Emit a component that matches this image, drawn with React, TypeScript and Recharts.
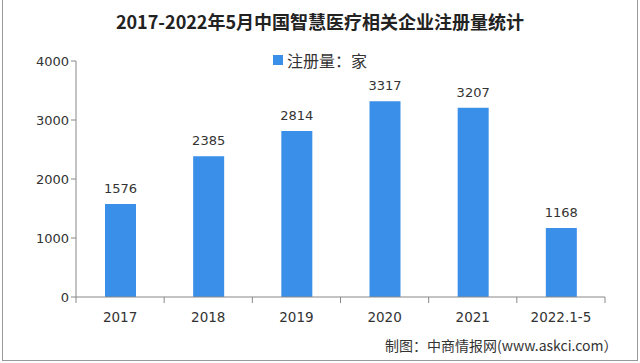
import { BarChart, Bar, XAxis, YAxis, LabelList } from 'recharts';

const categories = ['2017', '2018', '2019', '2020', '2021', '2022.1-5'];
const counts = [1576, 2385, 2814, 3317, 3207, 1168];
const yTicks = [0, 1000, 2000, 3000, 4000];

const data = categories.map((name, i) => ({ name, value: counts[i] }));

const W = 640;
const H = 363;
const M = { top: 61, right: 35, bottom: 36, left: 16 };
const Y_W = 60;
const BAND = (W - M.left - M.right - Y_W) / categories.length;
const NUM_FONT = '"DejaVu Sans", sans-serif';

const XTick = ({ x, y, payload, index }: any) => (
  <g>
    <line x1={x - BAND / 2} y1={y - 8} x2={x - BAND / 2} y2={y - 2} stroke="#888" />
    {index === categories.length - 1 && (
      <line x1={x + BAND / 2} y1={y - 8} x2={x + BAND / 2} y2={y - 2} stroke="#888" />
    )}
    <text x={x} y={y + 17} textAnchor="middle" fontSize={13.5} fill="#333" fontFamily={NUM_FONT}>
      {payload.value}
    </text>
  </g>
);

export default function App() {
  return (
    <div
      style={{
        position: 'absolute',
        left: 0,
        top: 0,
        width: W,
        height: H,
        background: '#fff',
        fontFamily: '"Liberation Sans", Arial, sans-serif',
      }}
    >
      <div
        style={{
          position: 'absolute',
          left: 2,
          top: 0,
          width: W - 6,
          height: H - 3,
          border: '1px solid #999',
          borderTop: 'none',
        }}
      />
      <div
        style={{
          position: 'absolute',
          top: 8,
          width: W,
          textAlign: 'center',
          fontSize: 18,
          fontWeight: 'bold',
          color: '#222',
          fontFamily: '"Noto Sans CJK SC", sans-serif',
        }}
      >
        2017-2022年5月中国智慧医疗相关企业注册量统计
      </div>
      <div
        style={{
          position: 'absolute',
          top: 48,
          left: 273,
          display: 'flex',
          alignItems: 'center',
          fontSize: 16,
          color: '#333',
          fontFamily: '"Noto Sans CJK SC", sans-serif',
        }}
      >
        <span style={{ display: 'inline-block', width: 10, height: 10, background: '#3a8fe8', marginRight: 4 }} />
        注册量：家
      </div>
      <BarChart width={W} height={H} data={data} margin={M} barSize={31}>
        <XAxis
          dataKey="name"
          axisLine={{ stroke: '#888' }}
          tickLine={false}
          tick={<XTick />}
          interval={0}
          height={30}
        />
        <YAxis
          width={Y_W}
          domain={[0, 4000]}
          ticks={yTicks}
          axisLine={{ stroke: '#888' }}
          tickLine={{ stroke: '#888' }}
          tick={{ fontSize: 13, fill: '#333', fontFamily: NUM_FONT }}
          tickSize={5}
        />
        <Bar dataKey="value" fill="#3a8fe8" isAnimationActive={false}>
          <LabelList
            dataKey="value"
            position="top"
            offset={11}
            fontSize={13}
            fill="#333"
            fontFamily={NUM_FONT}
          />
        </Bar>
      </BarChart>
      <div
        style={{
          position: 'absolute',
          top: 335,
          left: 385,
          fontSize: 14,
          color: '#333',
          fontFamily: '"Noto Sans CJK SC", sans-serif',
        }}
      >
        制图：中商情报网(www.askci.com）
      </div>
    </div>
  );
}
